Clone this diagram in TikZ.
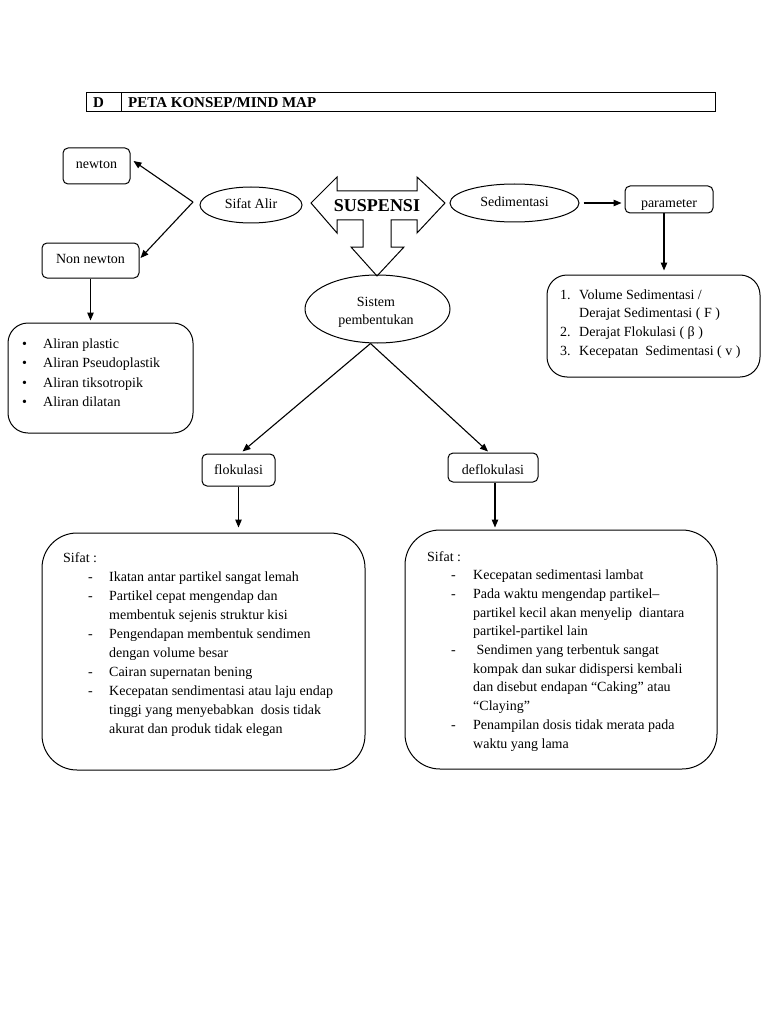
\documentclass[tikz,border=0pt]{standalone}
\usepackage{fontspec}
\setmainfont{Liberation Serif}
\usetikzlibrary{shapes.geometric,arrows.meta}
\begin{document}
\begin{tikzpicture}[x=1pt,y=-1pt,
  every node/.style={font=\fontsize{14}{19}\selectfont, inner sep=0pt},
  outl/.style={draw=black, line width=1pt},
  sbox/.style={outl, rounded corners=5pt, text height=9.5pt, text depth=3pt},
  bigbox/.style={outl, rounded corners=#1},
  ell/.style={outl, ellipse, align=center, text height=9.5pt, text depth=3pt},
  conn/.style={line width=1.1pt, -{Triangle[length=8pt,width=6.5pt]}}
]
\useasboundingbox (0,0) rectangle (768,1024);

% header
\draw[outl] (86,93) rectangle (715,112);
\draw[outl] (121,93) -- (121,112);
\node[anchor=west, font=\fontsize{15}{18}\selectfont\bfseries] (hdD) at (93,102.5) {D};
\node[anchor=west, font=\fontsize{15}{18}\selectfont\bfseries] (hdT) at (128,102.5) {PETA KONSEP/MIND MAP};

% left branch
\node[sbox, minimum width=67pt, minimum height=36pt, text height=7.5pt] (newton) at (96.5,166) {newton};
\node[sbox, minimum width=97pt, minimum height=35pt] (nonnewton) at (90.5,260.5) {Non newton};
\node[ell, minimum width=102pt, minimum height=36pt] (alir) at (251,205) {Sifat Alir};
\coordinate (fork) at (193,202);
\draw[conn] (fork) -- ([xshift=3pt,yshift=5pt]newton.east);
\draw[conn] (fork) -- ([xshift=1pt,yshift=2.5pt]nonnewton.east);

\node[bigbox=20pt, minimum width=185pt, minimum height=110pt] (aliran) at (100.5,378) {};
\node[anchor=base west, font=\fontsize{14}{19.5}\selectfont] (altext) at (22,348)
  {\begin{tabular}[t]{@{}p{21pt}@{}l@{}}
   \textbullet & Aliran plastic\\
   \textbullet & Aliran Pseudoplastik\\
   \textbullet & Aliran tiksotropik\\
   \textbullet & Aliran dilatan
   \end{tabular}};
\draw[conn, shorten >=2pt] (nonnewton.south) -- (nonnewton.south |- aliran.north);

% SUSPENSI block arrow
\draw[outl, line join=miter] (311,203) -- (337,177) -- (337,191) -- (417,191) -- (417,177) -- (445,203)
  -- (417,233) -- (417,220) -- (391,220) -- (391,247) -- (404,247) -- (377,276) -- (351,247)
  -- (363,247) -- (363,220) -- (337,220) -- (337,233) -- cycle;
\node[font=\fontsize{18}{20}\selectfont\bfseries] (susp) at (377,206) {SUSPENSI};

% right branch
\node[ell, minimum width=129pt, minimum height=38pt] (sed) at (514.5,203) {Sedimentasi};
\node[sbox, minimum width=88pt, minimum height=27pt, text height=19pt] (param) at (669,199.5) {parameter};
\draw[conn, shorten <=4pt, shorten >=3pt] (sed.east) -- (sed.east -| param.west);
\node[bigbox=20pt, minimum width=213pt, minimum height=102pt] (plist) at (653.5,326) {};
\node[anchor=base west, font=\fontsize{14}{18.7}\selectfont] (ptext) at (560,299)
  {\begin{tabular}[t]{@{}p{19pt}@{}l@{}}
   1. & Volume Sedimentasi /\\
      & Derajat Sedimentasi ( F )\\
   2. & Derajat Flokulasi ( β )\\
   3. & Kecepatan\ \ Sedimentasi ( v )
   \end{tabular}};
\draw[conn, shorten >=4pt] ([xshift=-5pt]param.south) -- ([xshift=-5pt]param.south |- plist.north);

% sistem pembentukan
\node[outl, ellipse, minimum width=145pt, minimum height=68pt] (sp) at (377.5,309) {};
\node[align=center, font=\fontsize{14}{18}\selectfont] (sptext) at (376,312.5) {Sistem\\pembentukan};
\coordinate (spb) at ([xshift=-7pt]sp.south);
\node[sbox, minimum width=73pt, minimum height=32pt, text height=11pt] (flok) at (238.5,470) {flokulasi};
\node[sbox, minimum width=90pt, minimum height=29pt, text height=17.5pt] (deflok) at (493,467.5) {deflokulasi};
\draw[conn] (spb) -- ([xshift=4pt,yshift=2pt]flok.north);
\draw[conn] (spb) -- ([xshift=-5pt,yshift=1pt]deflok.north);

% Sifat boxes
\node[bigbox=35pt, minimum width=323pt, minimum height=237pt] (lbox) at (203.5,651.5) {};
\node[bigbox=35pt, minimum width=312pt, minimum height=239pt] (rbox) at (561,649.5) {};
\draw[conn, shorten >=5pt] (flok.south) -- (flok.south |- lbox.north);
\draw[conn, shorten >=2pt] ([xshift=2pt]deflok.south) -- ([xshift=2pt]deflok.south |- rbox.north);

\node[anchor=base west] (ltext) at (63,562)
  {\begin{tabular}[t]{@{}p{25pt}@{}p{21pt}@{}l@{}}
   \multicolumn{3}{@{}l@{}}{Sifat :}\\
   & - & Ikatan antar partikel sangat lemah\\
   & - & Partikel cepat mengendap dan\\
   &   & membentuk sejenis struktur kisi\\
   & - & Pengendapan membentuk sendimen\\
   &   & dengan volume besar\\
   & - & Cairan supernatan bening\\
   & - & Kecepatan sendimentasi atau laju endap\\
   &   & tinggi yang menyebabkan\ \ dosis tidak\\
   &   & akurat dan produk tidak elegan
   \end{tabular}};

\node[anchor=base west, font=\fontsize{14}{18.7}\selectfont] (rtext) at (427,561)
  {\begin{tabular}[t]{@{}p{24pt}@{}p{22pt}@{}l@{}}
   \multicolumn{3}{@{}l@{}}{Sifat :}\\
   & - & Kecepatan sedimentasi lambat\\
   & - & Pada waktu mengendap partikel–\\
   &   & partikel kecil akan menyelip\ \ diantara\\
   &   & partikel-partikel lain\\
   & - & \ Sendimen yang terbentuk sangat\\
   &   & kompak dan sukar didispersi kembali\\
   &   & dan disebut endapan “Caking” atau\\
   &   & “Claying”\\
   & - & Penampilan dosis tidak merata pada\\
   &   & waktu yang lama
   \end{tabular}};
\end{tikzpicture}
\end{document}
